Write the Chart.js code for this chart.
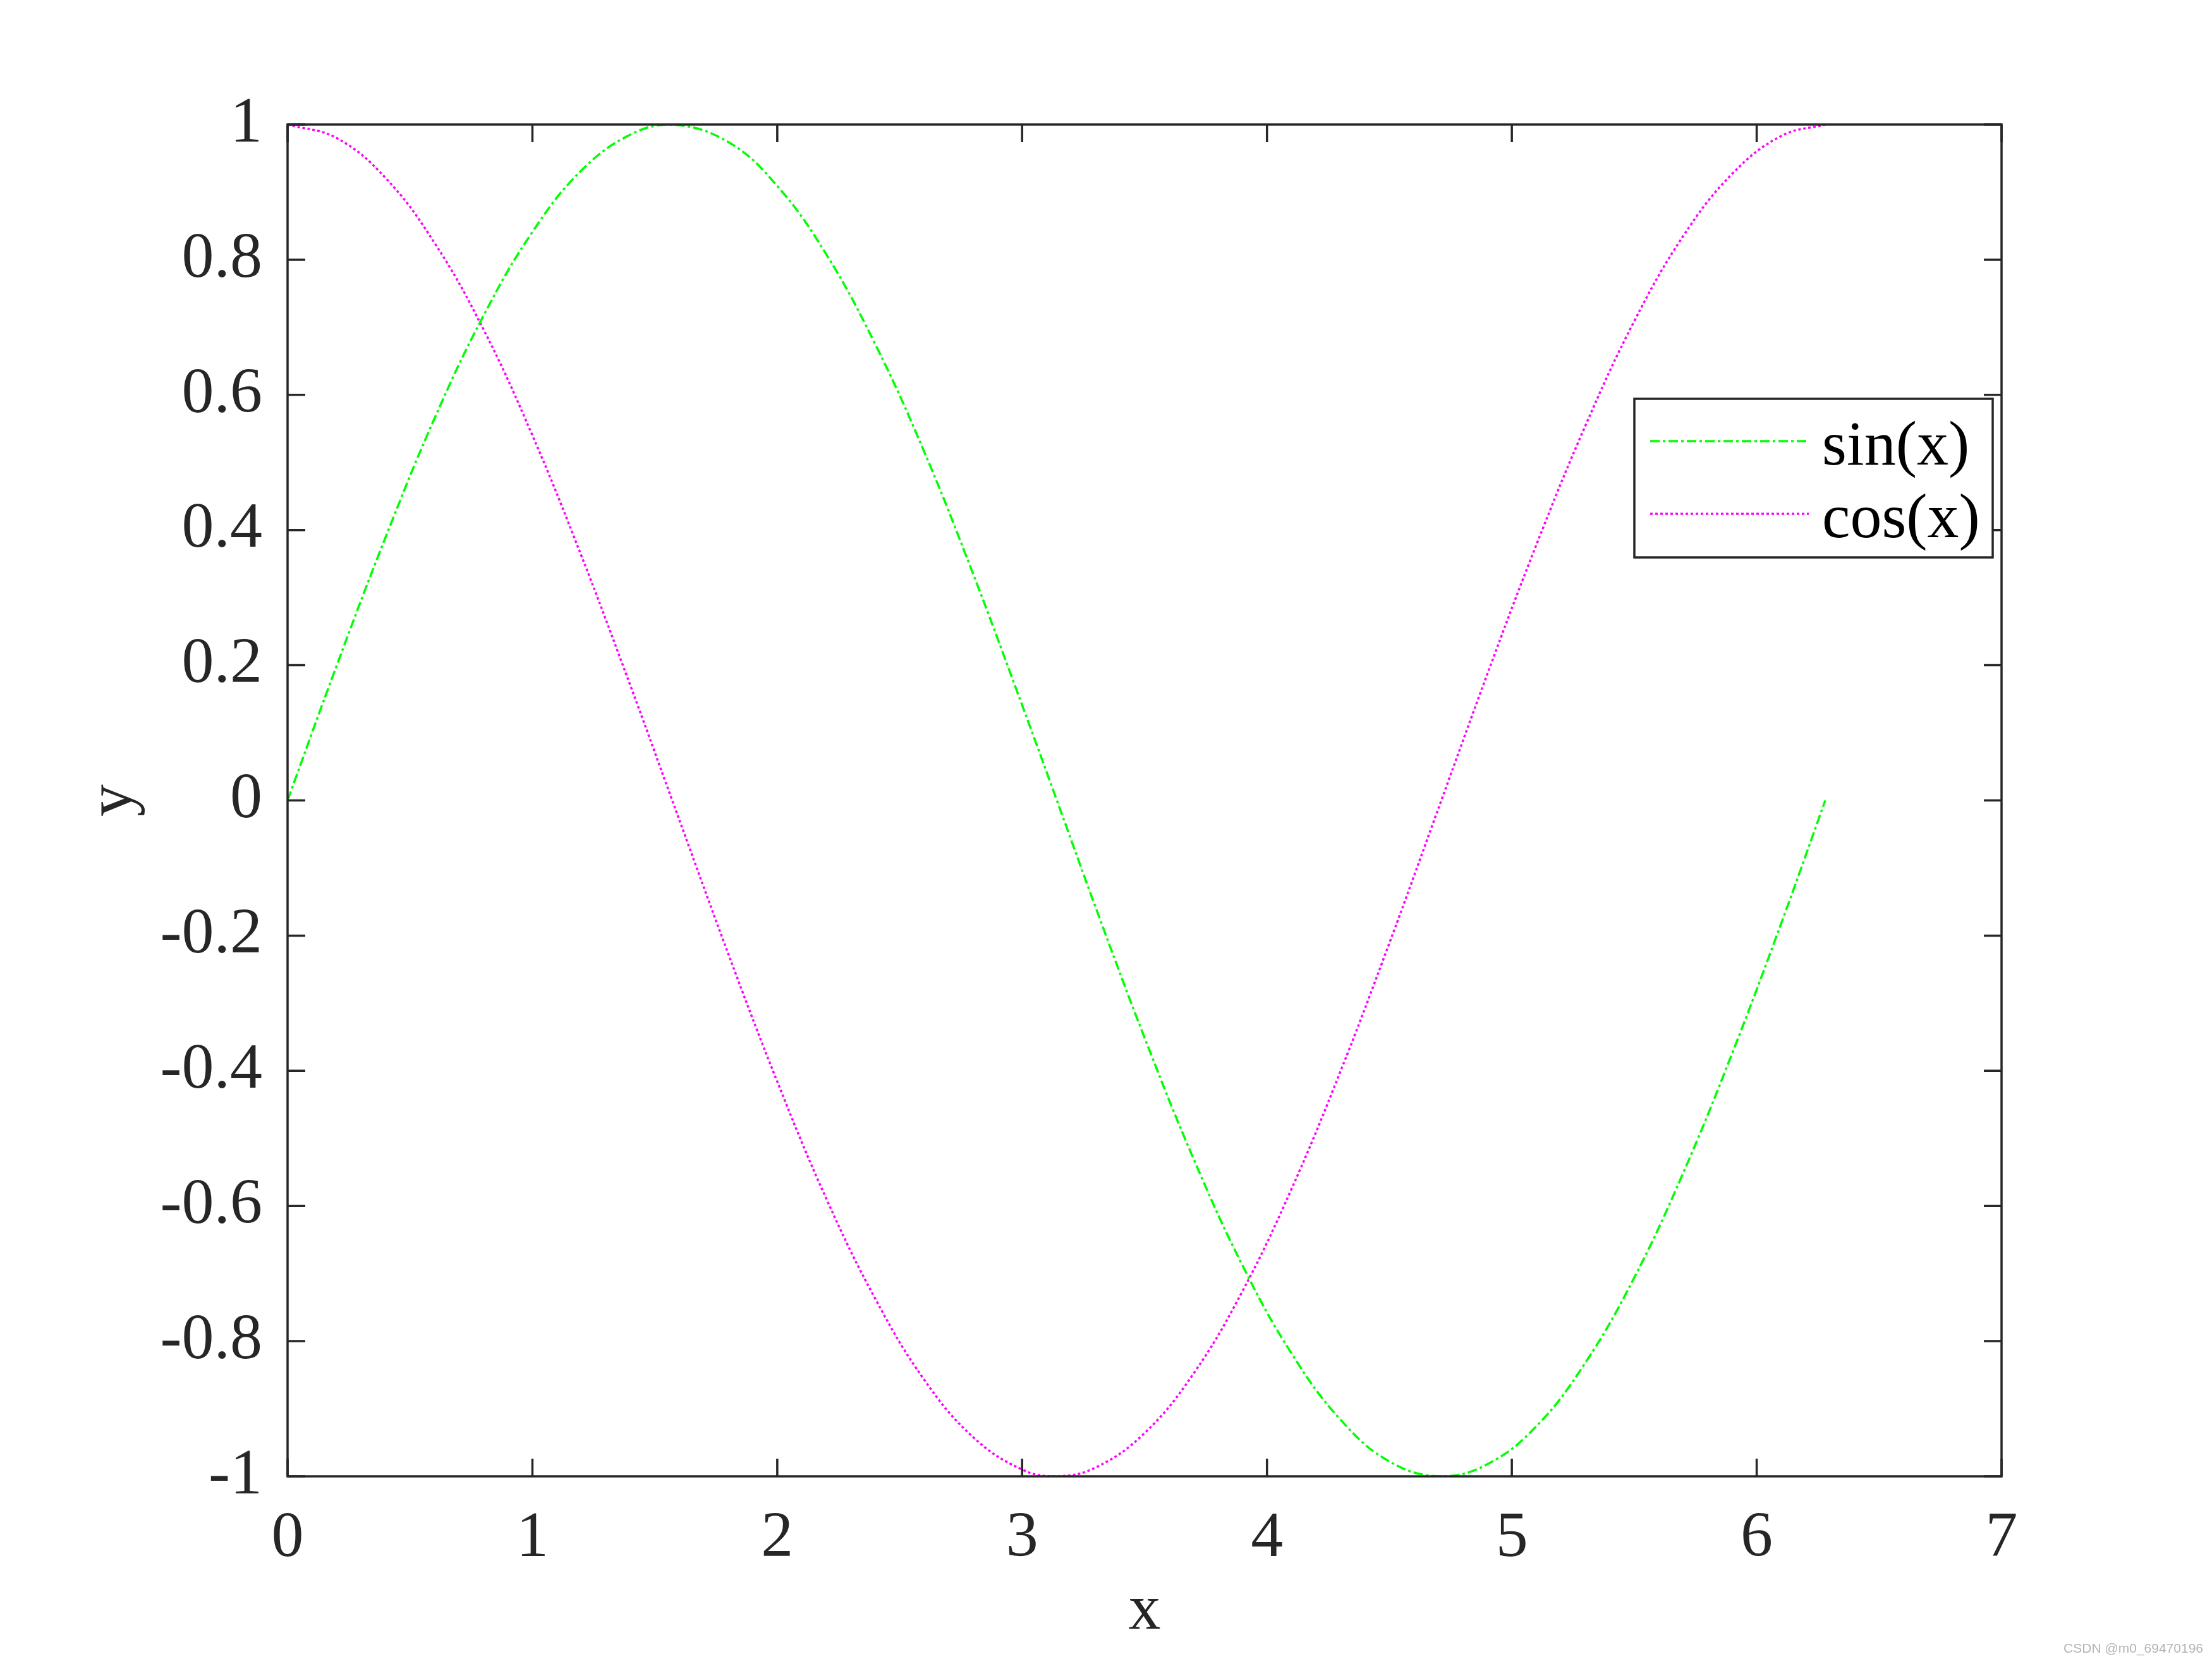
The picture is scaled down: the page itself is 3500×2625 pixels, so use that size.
<!DOCTYPE html>
<html lang="en">
<head>
    <meta charset="UTF-8">
    <title>sin(x) and cos(x)</title>
    <script src="https://cdn.jsdelivr.net/npm/chart.js"></script>
    <style>
        html, body {
            margin: 0;
            padding: 0;
            background-color: #ffffff;
        }
        #wrap {
            width: 3500px;
            height: 2625px;
        }
    </style>
</head>
<body>
    <div id="wrap"><canvas id="myChart" width="3500" height="2625"></canvas></div>

    <script>
        // values
        const xValues = [0, 0.2, 0.4, 0.6, 0.8, 1.0, 1.2, 1.4, 1.57, 1.8, 2.0, 2.2, 2.4, 2.6, 2.8, 3.0, 3.14,
                         3.3, 3.5, 3.7, 3.9, 4.1, 4.3, 4.5, 4.71, 4.9, 5.1, 5.3, 5.5, 5.7, 5.9, 6.1, 6.28];
        const sinValues = [0, 0.199, 0.389, 0.565, 0.717, 0.841, 0.932, 0.985, 1.000, 0.974, 0.909, 0.808, 0.675, 0.516, 0.335, 0.141, 0.002,
                           -0.158, -0.351, -0.530, -0.688, -0.818, -0.916, -0.978, -1.000, -0.982, -0.926, -0.832, -0.706, -0.551, -0.374, -0.182, 0];
        const cosValues = [1.000, 0.980, 0.921, 0.825, 0.697, 0.540, 0.362, 0.170, 0.001, -0.227, -0.416, -0.589, -0.737, -0.857, -0.942, -0.990, -1.000,
                           -0.987, -0.936, -0.848, -0.726, -0.575, -0.401, -0.211, -0.002, 0.187, 0.378, 0.554, 0.709, 0.835, 0.927, 0.983, 1.000];
        const seriesNames = ['sin(x)', 'cos(x)'];
        const xTicks = [0, 1, 2, 3, 4, 5, 6, 7];
        const yTicks = [-1, -0.8, -0.6, -0.4, -0.2, 0, 0.2, 0.4, 0.6, 0.8, 1];

        const axisColor = '#262626';
        const serif = '"Liberation Serif", "Times New Roman", serif';
        const tickFont = { family: serif, size: 102, lineHeight: 1.2 };

        const toPoints = (ys) => xValues.map((x, i) => ({ x: x, y: ys[i] }));

        // MATLAB style box with inward ticks, legend and the little watermark
        const matlabBox = {
            id: 'matlabBox',
            afterDraw(chart) {
                const ctx = chart.ctx;
                const a = chart.chartArea;
                const xs = chart.scales.x, ys = chart.scales.y;
                const tl = 28;
                ctx.save();
                ctx.strokeStyle = axisColor;
                ctx.lineWidth = 3.5;
                ctx.setLineDash([]);
                ctx.beginPath();
                xTicks.forEach(v => {
                    const px = xs.getPixelForValue(v);
                    ctx.moveTo(px, a.bottom); ctx.lineTo(px, a.bottom - tl);
                    ctx.moveTo(px, a.top); ctx.lineTo(px, a.top + tl);
                });
                yTicks.forEach(v => {
                    const py = ys.getPixelForValue(v);
                    ctx.moveTo(a.left, py); ctx.lineTo(a.left + tl, py);
                    ctx.moveTo(a.right, py); ctx.lineTo(a.right - tl, py);
                });
                ctx.stroke();
                ctx.strokeRect(a.left, a.top, a.right - a.left, a.bottom - a.top);

                // legend
                const lx = 2586, ly = 631, lw = 567, lh = 251;
                ctx.fillStyle = '#ffffff';
                ctx.fillRect(lx, ly, lw, lh);
                ctx.lineWidth = 3.5;
                ctx.strokeStyle = axisColor;
                ctx.strokeRect(lx, ly, lw, lh);
                const rows = [698, 813];
                chart.data.datasets.forEach((ds, i) => {
                    ctx.strokeStyle = ds.borderColor;
                    ctx.lineWidth = ds.borderWidth;
                    ctx.setLineDash(ds.borderDash);
                    ctx.beginPath();
                    ctx.moveTo(2611, rows[i]);
                    ctx.lineTo(2862, rows[i]);
                    ctx.stroke();
                    ctx.setLineDash([]);
                    ctx.fillStyle = '#000000';
                    ctx.font = '100px ' + serif;
                    ctx.textAlign = 'left';
                    ctx.textBaseline = 'alphabetic';
                    ctx.fillText(ds.label, 2883, rows[i] + 37);
                });

                ctx.fillStyle = '#b4b4b4';
                ctx.font = '21px "Liberation Sans", Arial, sans-serif';
                ctx.textAlign = 'right';
                ctx.fillText('CSDN @m0_69470196', 3486, 2615);
                ctx.restore();
            }
        };

        const ctx = document.getElementById('myChart').getContext('2d');

        const myChart = new Chart(ctx, {
            type: 'line',
            data: {
                datasets: [{
                    label: seriesNames[0],
                    data: toPoints(sinValues),
                    borderColor: '#00ff00',
                    borderWidth: 3.5,
                    borderDash: [15, 5, 4, 5],
                    pointRadius: 0,
                    tension: 0.4,
                    fill: false
                }, {
                    label: seriesNames[1],
                    data: toPoints(cosValues),
                    borderColor: '#ff00ff',
                    borderWidth: 3.5,
                    borderDash: [4, 4],
                    pointRadius: 0,
                    tension: 0.4,
                    fill: false
                }]
            },
            options: {
                responsive: false,
                animation: false,
                devicePixelRatio: 1,
                layout: {
                    padding: { top: 197, right: 333, bottom: 0, left: 0 }
                },
                scales: {
                    x: {
                        type: 'linear',
                        min: 0,
                        max: 7,
                        afterBuildTicks: (s) => { s.ticks = xTicks.map(v => ({ value: v })); },
                        afterFit: (s) => { s.height = 289; },
                        ticks: {
                            padding: 38,
                            color: axisColor,
                            font: tickFont,
                            maxRotation: 0,
                            callback: (v) => String(v)
                        },
                        grid: { display: false, drawTicks: false },
                        border: { display: false },
                        title: {
                            display: true,
                            text: 'x',
                            color: axisColor,
                            font: tickFont,
                            padding: { top: 0, bottom: 14 }
                        }
                    },
                    y: {
                        type: 'linear',
                        min: -1,
                        max: 1,
                        afterBuildTicks: (s) => { s.ticks = yTicks.map(v => ({ value: v })); },
                        afterFit: (s) => { s.width = 455; },
                        ticks: {
                            padding: 40,
                            color: axisColor,
                            font: tickFont,
                            callback: (v) => String(Number(v.toFixed(1)))
                        },
                        grid: { display: false, drawTicks: false },
                        border: { display: false },
                        title: {
                            display: true,
                            text: 'y',
                            color: axisColor,
                            font: tickFont,
                            padding: { top: 119, bottom: 0 }
                        }
                    }
                },
                plugins: {
                    legend: { display: false },
                    tooltip: { enabled: false }
                }
            },
            plugins: [matlabBox]
        });
    </script>
</body>
</html>
